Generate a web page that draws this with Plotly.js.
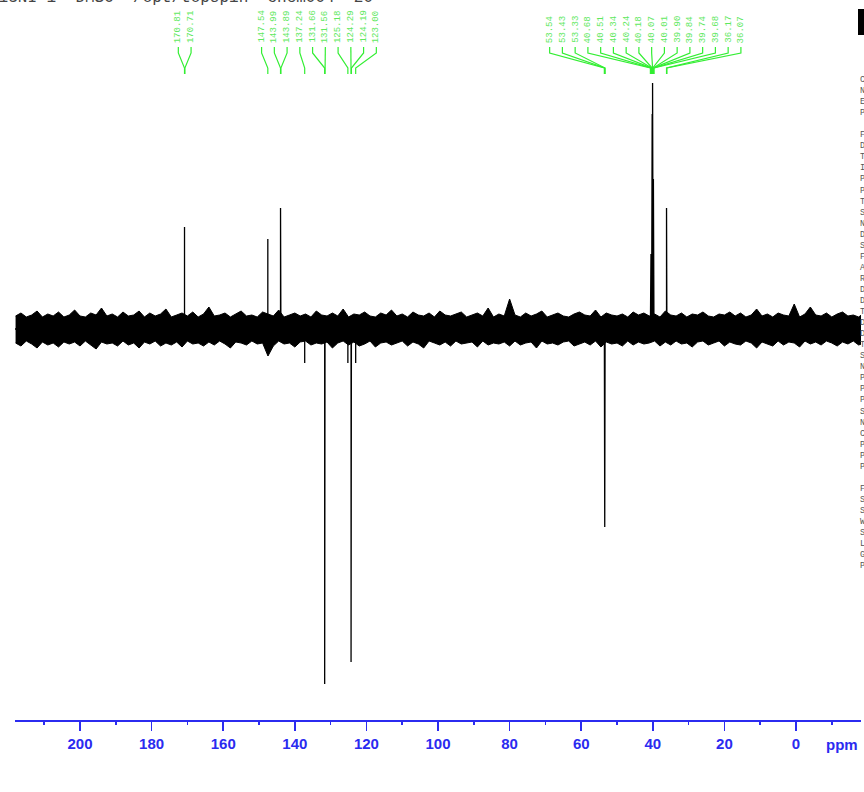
<!DOCTYPE html>
<html>
<head>
<meta charset="utf-8">
<script src="https://cdn.plot.ly/plotly-3.0.1.min.js"></script>
<style>html,body{margin:0;padding:0;background:#fff;overflow:hidden}#chart{width:864px;height:792px}</style>
</head>
<body>
<div id="chart"></div>
<script>
// ---- data ----
const peakPpm = [170.81,170.71,147.54,143.99,143.89,137.24,131.66,131.56,125.18,124.29,124.19,123.00,
                 53.54,53.43,53.33,40.68,40.51,40.34,40.24,40.18,40.07,40.01,39.90,39.84,39.74,39.68,36.17,36.07];
const peakInt = [102,54,90,121,80,-34,-355,-300,-34,-333,-146,-34,
                 -81,-198,-60,25,75,150,90,215,246,215,90,150,60,25,121,70];
const peakLabels = ["170.81","170.71","147.54","143.99","143.89","137.24","131.66","131.56","125.18","124.29","124.19","123.00",
                 "53.54","53.43","53.33","40.68","40.51","40.34","40.24","40.18","40.07","40.01","39.90","39.84","39.74","39.68","36.17","36.07"];
// baseline noise envelope, one value every 1.5 ppm from 218 down to -19
const noiseStart = 218, noiseStep = 1.5;
const noiseUpper = [13,16,12,14,18,12,15,13,17,12, 14,19,13,12,16,14,21,13,15,12,
                    17,13,14,18,12,16,13,15,20,12, 14,16,13,17,12,15,22,13,14,16,
                    12,15,18,13,14,12,17,15,13,19, 12,14,16,13,15,12,18,14,13,16,
                    13,20,12,15,14,17,13,12,16,14, 19,13,15,12,17,14,13,16,12,18,
                    14,13,15,17,12,14,16,13,21,12, 15,13,30,14,12,16,13,15,18,12,
                    14,16,13,12,15,17,14,13,19,12, 16,14,13,15,12,17,14,16,13,15,
                    12,18,14,13,16,12,15,14,17,13, 12,15,14,17,13,16,12,14,20,13,
                    15,12,16,14,13,25,12,15,22,14, 13,16,12,15,17,13,14,12,16];
const noiseLower = [-14,-17,-12,-15,-19,-13,-16,-14,-18,-13, -15,-13,-17,-12,-16,-20,-13,-15,-14,-17,
                    -12,-16,-14,-19,-13,-15,-12,-17,-14,-16, -13,-18,-12,-15,-14,-17,-13,-16,-12,-15,
                    -19,-13,-14,-16,-12,-15,-14,-27,-17,-12, -15,-14,-18,-13,-12,-16,-14,-15,-13,-19,
                    -14,-12,-16,-13,-17,-15,-12,-18,-14,-13, -16,-14,-12,-17,-13,-15,-19,-12,-14,-16,
                    -13,-17,-12,-15,-14,-13,-18,-12,-16,-14, -15,-13,-17,-12,-16,-14,-13,-19,-12,-15,
                    -14,-16,-13,-12,-17,-15,-13,-16,-12,-18, -13,-15,-14,-17,-12,-16,-13,-15,-14,-12,
                    -17,-13,-16,-12,-15,-14,-18,-13,-12,-16, -14,-12,-17,-13,-15,-16,-12,-14,-19,-13,
                    -15,-17,-12,-16,-13,-14,-18,-12,-15,-13, -16,-12,-14,-17,-13,-15,-12,-16,-14];
const tickVals = [200,180,160,140,120,100,80,60,40,20,0];
const tickText = ["200","180","160","140","120","100","80","60","40","20","0"];
const headerText = "C13NI-1\u00a0\u00a0DMSO\u00a0\u00a0/opt/topspin\u00a0\u00a0chem004\u00a0\u00a020";
const paramLines = ["Current Data Parameters","NAME","EXPNO","PROCNO","",
  "F2 - Acquisition Parameters","Date_","Time","INSTRUM","PROBHD","PULPROG","TD","SOLVENT","NS","DS",
  "SWH","FIDRES","AQ","RG","DW","DE","TE","D1","D2","TD0","SFO1","NUC1","P1","P2","PLW1",
  "SFO2","NUC2","CPDPRG[2","PCPD2","PLW2","PLW12","",
  "F2 - Processing parameters","SI","SF","WDW","SSB","LB","GB","PC"];

// ---- geometry ----
const W = 864, H = 792;
const plotL = 15, plotR = 861, plotT = 0, plotB = 720;
const xr = [218.16, -18.15];
const yr = [-391, 329];
const pxToPpm = px => xr[0] + (px - plotL) / (plotR - plotL) * (xr[1] - xr[0]);
const ppmToPx = p => plotL + (p - xr[0]) / (xr[1] - xr[0]) * (plotR - plotL);
const pyToY = py => yr[1] - (py - plotT) / (plotB - plotT) * (yr[1] - yr[0]);
const pxToPaperX = px => (px - plotL) / (plotR - plotL);
const pyToPaperY = py => 1 - (py - plotT) / (plotB - plotT);

// noise band polygon (x positions of the sampled envelope)
const noisePpm = noiseUpper.map((v, i) => noiseStart - i * noiseStep);
const bandX = noisePpm.concat(noisePpm.slice().reverse());
const bandY = noiseUpper.concat(noiseLower.slice().reverse());

// spectrum line with peaks
const specX = [xr[0]], specY = [0];
peakPpm.forEach((p, i) => { specX.push(p, p, p); specY.push(0, peakInt[i], 0); });
specX.push(xr[1]); specY.push(0);

// label grouping (spread labels to avoid overlap)
const sp = 12.75;
let groups = peakPpm.map((p, i) => [i]);
const gCenter = g => g.reduce((s, i) => s + ppmToPx(peakPpm[i]), 0) / g.length;
let merged = true;
while (merged) {
  merged = false;
  for (let k = 0; k < groups.length - 1; k++) {
    const a = groups[k], b = groups[k + 1];
    const aR = gCenter(a) + (a.length / 2) * sp, bL = gCenter(b) - (b.length / 2) * sp;
    if (aR > bL) { groups.splice(k, 2, a.concat(b)); merged = true; break; }
  }
}
const labelPx = [];
groups.forEach(g => { const c = gCenter(g); g.forEach((idx, j) => { labelPx[idx] = c + (j - (g.length - 1) / 2) * sp; }); });

const conX = [], conY = [];
peakPpm.forEach((p, i) => {
  const lx = pxToPpm(labelPx[i]);
  conX.push(lx, lx, p, p, null);
  conY.push(pyToY(47), pyToY(53), pyToY(68), pyToY(74), null);
});

const annotations = peakLabels.map((t, i) => ({
  x: pxToPpm(labelPx[i]), y: pyToY(45), xref: 'x', yref: 'y', text: t, showarrow: false,
  textangle: -90, xanchor: 'center', yanchor: 'bottom',
  font: {family: 'Liberation Mono, DejaVu Sans Mono, monospace', size: 9, color: '#5ee85e'}
}));
annotations.push({
  x: pxToPaperX(842), y: pyToPaperY(744), xref: 'paper', yref: 'paper', text: 'ppm', showarrow: false,
  xanchor: 'center', yanchor: 'middle',
  font: {family: 'Liberation Sans, Arial, sans-serif', size: 15, color: '#2b2bf0', weight: 'bold'}
});
annotations.push({
  x: pxToPaperX(-13), y: pyToPaperY(9), xref: 'paper', yref: 'paper', text: headerText, showarrow: false,
  xanchor: 'left', yanchor: 'bottom',
  font: {family: 'Liberation Mono, monospace', size: 16, color: '#444'}
});
annotations.push({
  x: pxToPaperX(858), y: pyToPaperY(73), xref: 'paper', yref: 'paper', text: paramLines.join('<br>'), showarrow: false,
  xanchor: 'left', yanchor: 'top', align: 'left',
  font: {family: 'Liberation Mono, monospace', size: 8.5, color: '#555'}
});

const data = [
  {x: bandX, y: bandY, type: 'scatter', mode: 'lines', fill: 'toself', fillcolor: '#000',
   line: {color: '#000', width: 1}, hoverinfo: 'skip', showlegend: false},
  {x: specX, y: specY, type: 'scatter', mode: 'lines', line: {color: '#000', width: 1.3},
   hoverinfo: 'skip', showlegend: false},
  {x: conX, y: conY, type: 'scatter', mode: 'lines', line: {color: '#33ee33', width: 1.2},
   hoverinfo: 'skip', showlegend: false}
];

const layout = {
  width: W, height: H,
  margin: {l: plotL, r: W - plotR, t: plotT, b: H - plotB},
  paper_bgcolor: '#fff', plot_bgcolor: '#fff',
  showlegend: false,
  xaxis: {range: xr, showgrid: false, zeroline: false, showline: true, linecolor: '#2b2bf0', linewidth: 1.5,
    ticks: 'outside', ticklen: 9, tickwidth: 1.5, tickcolor: '#2b2bf0',
    tickvals: tickVals, ticktext: tickText, ticklabelstandoff: 0,
    tickfont: {family: 'Liberation Sans, Arial, sans-serif', size: 15, color: '#2b2bf0', weight: 'bold'},
    minor: {dtick: 10, tick0: 0, ticks: 'outside', ticklen: 3, tickwidth: 1.5, tickcolor: '#2b2bf0', showgrid: false}},
  yaxis: {range: yr, visible: false, showgrid: false, zeroline: false},
  annotations: annotations,
  shapes: [{type: 'rect', xref: 'paper', yref: 'paper', x0: pxToPaperX(858), x1: pxToPaperX(866),
    y0: pyToPaperY(35), y1: pyToPaperY(9), fillcolor: '#000', line: {width: 0}}]
};

Plotly.newPlot('chart', data, layout, {staticPlot: true, displayModeBar: false});
</script>
</body>
</html>
